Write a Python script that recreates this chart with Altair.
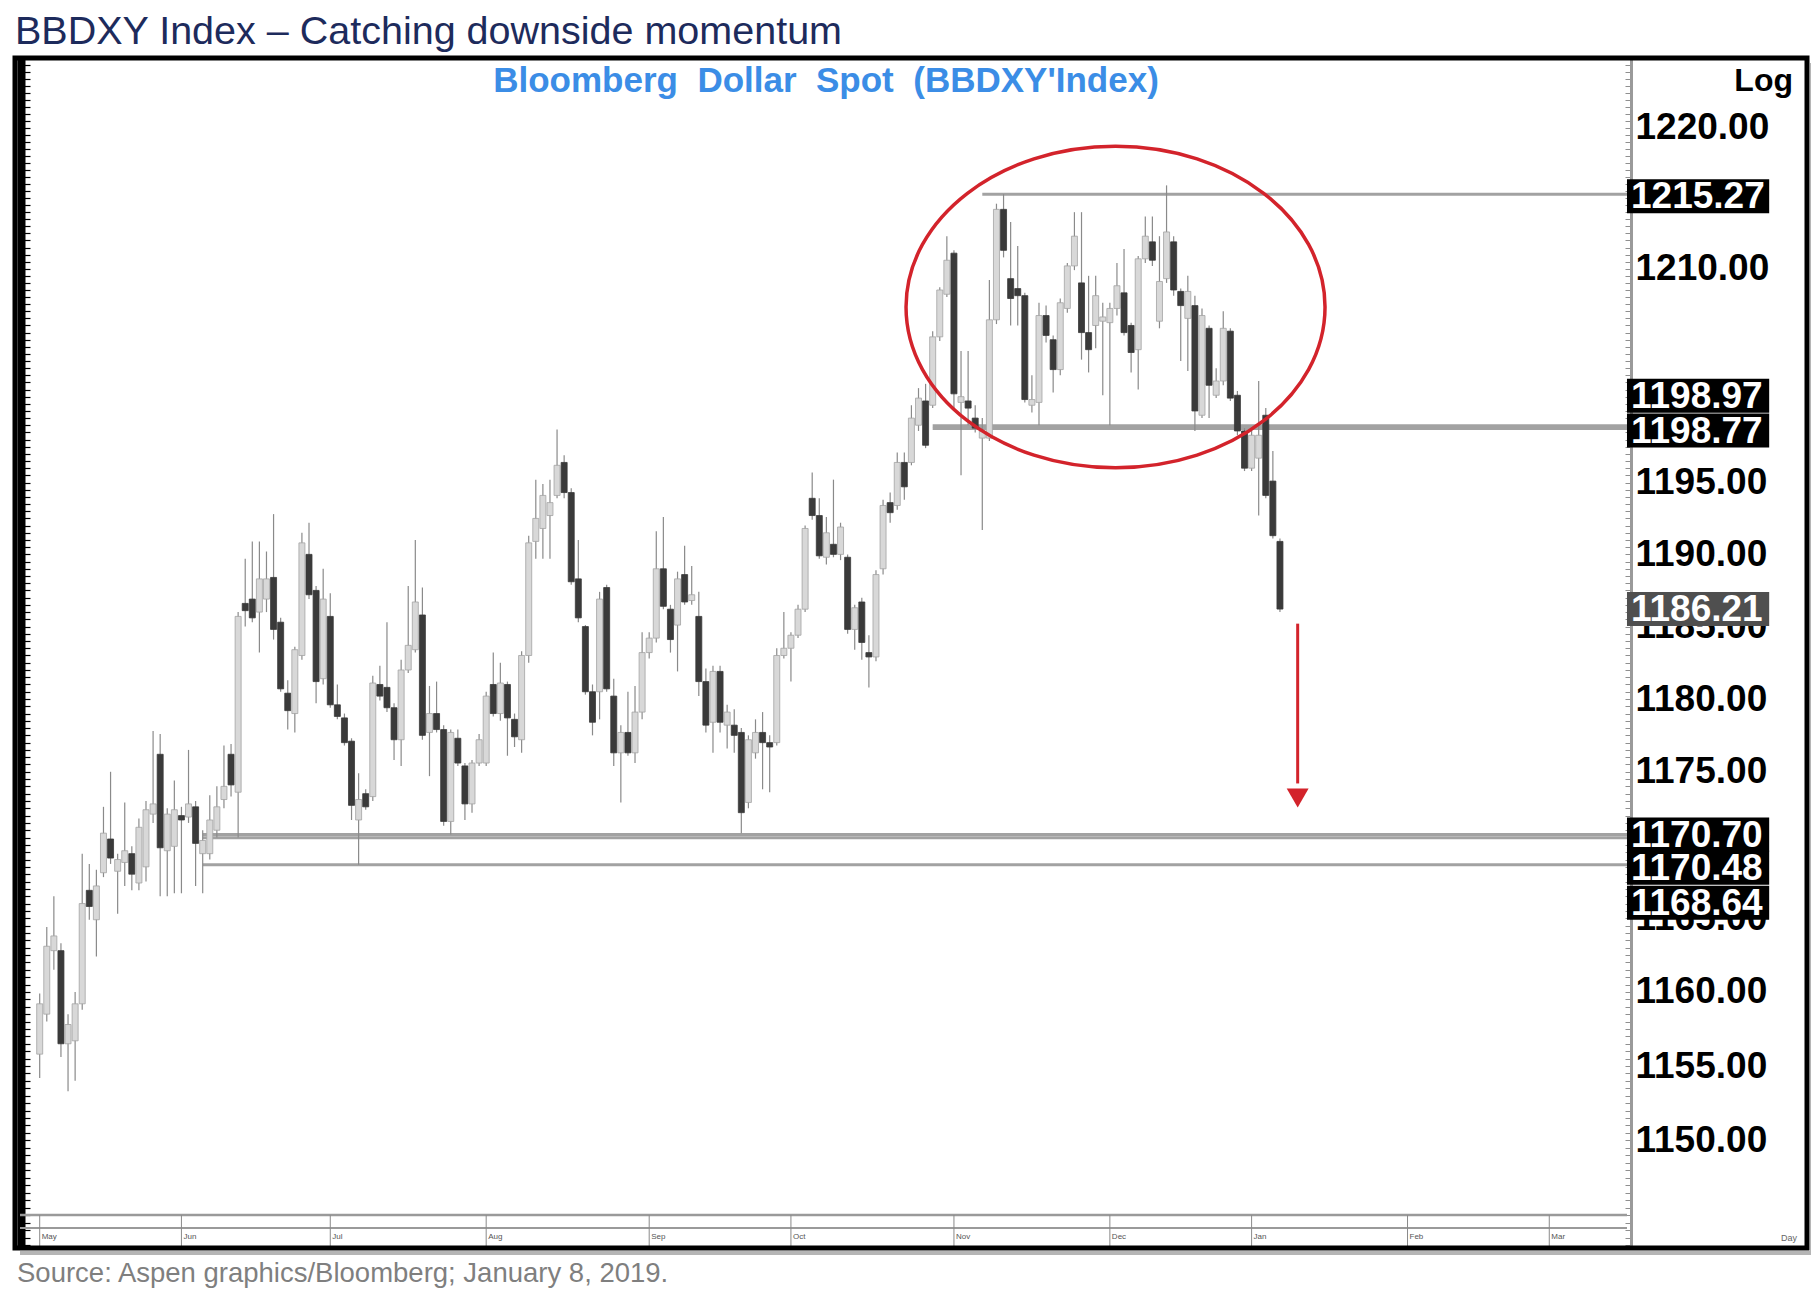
import altair as alt
import numpy as np
import pandas as pd

# ---------------- text ----------------
TITLE = "BBDXY Index – Catching downside momentum"
SUBTITLE = "Bloomberg  Dollar  Spot  (BBDXY'Index)"
SOURCE = "Source: Aspen graphics/Bloomberg; January 8, 2019."

# ---------------- daily candles ----------------
OPEN = [1155.8, 1158.5, 1162.8, 1162.8, 1156.5, 1156.7, 1159.2, 1166.9, 1164.9, 1168.1,
        1170.4, 1168.2, 1168.8, 1169.4, 1167.4, 1168.5, 1172.1, 1176.2, 1169.6, 1169.9,
        1172.0, 1171.9, 1172.6, 1169.4, 1169.4, 1171.0, 1173.1, 1176.2, 1173.6, 1186.6,
        1186.9, 1186.0, 1186.9, 1188.4, 1185.3, 1180.4, 1179.0, 1183.0, 1190.0, 1187.5,
        1181.4, 1185.7, 1179.6, 1178.7, 1177.1, 1171.7, 1173.5, 1173.3, 1181.0, 1180.8,
        1179.4, 1177.2, 1182.0, 1183.4, 1185.8, 1177.7, 1179.0, 1177.9, 1171.6, 1177.3,
        1175.4, 1172.8, 1175.6, 1175.6, 1181.0, 1179.0, 1181.0, 1178.6, 1177.2, 1183.0,
        1190.9, 1191.8, 1192.7, 1194.1, 1196.4, 1194.3, 1188.3, 1185.0, 1180.5, 1180.5,
        1187.7, 1180.2, 1176.3, 1177.7, 1176.3, 1179.1, 1183.2, 1184.2, 1189.0, 1186.2,
        1185.1, 1188.6, 1186.8, 1185.7, 1181.2, 1178.4, 1181.9, 1178.2, 1178.2, 1177.7,
        1172.9, 1176.3, 1177.7, 1177.0, 1177.0, 1183.0, 1183.5, 1184.4, 1186.2, 1193.9,
        1192.7, 1189.8, 1190.7, 1190.0, 1189.8, 1184.8, 1186.7, 1183.2, 1182.9, 1189.0,
        1193.6, 1193.4, 1196.4, 1196.4, 1199.0, 1200.7, 1200.4, 1205.2, 1208.2, 1211.1,
        1200.6, 1200.7, 1199.5, 1198.1, 1198.1, 1206.4, 1214.2, 1209.3, 1208.6, 1208.1,
        1200.4, 1200.6, 1206.7, 1205.0, 1202.9, 1207.2, 1210.2, 1209.0, 1205.5, 1206.0,
        1206.3, 1206.2, 1207.2, 1208.3, 1206.0, 1204.3, 1210.7, 1211.9, 1206.3, 1209.3,
        1211.9, 1208.4, 1206.5, 1207.4, 1199.7, 1205.8, 1201.1, 1202.1, 1205.6, 1201.1,
        1198.6, 1196.0, 1196.7, 1199.7, 1195.1, 1190.9]
HIGH = [1159.9, 1164.4, 1166.5, 1163.3, 1158.5, 1160.0, 1169.4, 1168.7, 1168.3, 1172.6,
        1175.0, 1169.4, 1172.9, 1169.9, 1171.8, 1173.0, 1177.8, 1177.6, 1172.5, 1174.4,
        1172.6, 1176.5, 1173.0, 1171.0, 1173.4, 1174.0, 1176.8, 1176.9, 1186.0, 1189.7,
        1190.9, 1190.9, 1190.2, 1192.8, 1185.6, 1181.3, 1183.6, 1191.5, 1192.2, 1187.8,
        1189.0, 1187.3, 1181.0, 1179.0, 1177.3, 1174.9, 1173.8, 1181.6, 1182.3, 1185.3,
        1179.7, 1182.7, 1187.8, 1191.0, 1187.7, 1180.9, 1181.2, 1178.2, 1177.9, 1177.9,
        1175.6, 1175.8, 1177.6, 1180.5, 1183.2, 1182.5, 1181.2, 1179.0, 1183.3, 1191.3,
        1195.2, 1194.9, 1195.2, 1198.7, 1196.9, 1194.6, 1191.0, 1185.1, 1181.0, 1187.4,
        1187.9, 1181.4, 1178.2, 1180.5, 1180.9, 1184.6, 1184.6, 1191.6, 1192.6, 1186.5,
        1188.8, 1190.6, 1189.2, 1187.4, 1182.1, 1182.3, 1182.3, 1179.6, 1179.3, 1178.0,
        1177.5, 1178.6, 1179.1, 1177.5, 1183.5, 1186.0, 1184.6, 1186.5, 1192.0, 1195.7,
        1193.9, 1192.6, 1195.2, 1192.2, 1190.0, 1186.5, 1187.0, 1184.4, 1188.9, 1193.8,
        1194.3, 1197.1, 1197.1, 1200.4, 1201.6, 1201.9, 1205.6, 1208.7, 1212.3, 1211.3,
        1204.2, 1204.2, 1200.4, 1199.5, 1209.2, 1214.6, 1215.27, 1213.3, 1211.6, 1208.3,
        1202.5, 1207.6, 1207.4, 1205.3, 1207.9, 1210.4, 1214.0, 1214.0, 1209.5, 1209.5,
        1207.6, 1207.6, 1210.4, 1211.4, 1206.2, 1210.9, 1213.7, 1213.7, 1212.3, 1215.9,
        1212.3, 1208.6, 1209.5, 1208.1, 1207.2, 1206.0, 1203.0, 1207.0, 1205.8, 1201.4,
        1198.8, 1198.8, 1202.1, 1200.2, 1197.2, 1191.1]
LOW = [1154.2, 1158.0, 1161.5, 1155.6, 1153.3, 1154.0, 1158.8, 1164.9, 1162.4, 1167.8,
       1168.7, 1165.3, 1167.2, 1166.9, 1166.9, 1167.5, 1171.5, 1166.5, 1166.5, 1166.7,
       1166.7, 1171.5, 1167.2, 1166.7, 1169.0, 1170.5, 1172.5, 1173.3, 1170.5, 1185.0,
       1185.3, 1183.2, 1186.0, 1184.1, 1180.5, 1177.9, 1177.7, 1182.7, 1186.9, 1179.7,
       1181.0, 1179.4, 1178.6, 1176.8, 1171.7, 1168.64, 1172.4, 1173.0, 1179.9, 1179.1,
       1175.8, 1175.4, 1181.8, 1183.2, 1177.2, 1174.7, 1177.7, 1171.3, 1170.7, 1175.4,
       1171.7, 1172.2, 1175.4, 1175.4, 1178.8, 1178.5, 1176.1, 1176.7, 1176.3, 1182.5,
       1189.7, 1189.7, 1189.7, 1193.9, 1193.9, 1187.9, 1185.3, 1180.3, 1177.5, 1178.6,
       1180.5, 1175.4, 1172.9, 1176.1, 1175.6, 1178.6, 1182.8, 1183.9, 1186.2, 1183.2,
       1181.9, 1186.5, 1186.5, 1180.2, 1177.7, 1176.3, 1177.7, 1176.6, 1176.3, 1170.8,
       1172.5, 1175.9, 1173.8, 1173.6, 1176.8, 1182.8, 1181.2, 1184.2, 1186.0, 1192.4,
       1189.7, 1189.3, 1189.8, 1189.6, 1184.5, 1183.4, 1182.7, 1180.8, 1182.6, 1188.6,
       1192.2, 1193.1, 1193.8, 1196.2, 1198.6, 1197.4, 1200.2, 1204.9, 1208.0, 1200.0,
       1195.5, 1199.0, 1198.5, 1191.7, 1197.9, 1206.1, 1210.8, 1206.0, 1206.0, 1200.6,
       1199.9, 1199.0, 1204.8, 1201.3, 1202.5, 1206.9, 1209.9, 1203.6, 1202.7, 1204.4,
       1201.1, 1199.0, 1206.7, 1205.3, 1202.7, 1201.5, 1210.4, 1210.2, 1205.8, 1209.0,
       1208.1, 1203.5, 1202.8, 1198.6, 1199.5, 1199.5, 1200.9, 1201.8, 1200.7, 1198.3,
       1195.8, 1195.8, 1192.7, 1193.9, 1191.1, 1186.0]
CLOSE = [1159.2, 1163.1, 1163.8, 1156.5, 1157.8, 1159.2, 1166.0, 1165.8, 1167.2, 1170.8,
         1169.1, 1169.0, 1169.6, 1168.0, 1171.2, 1172.4, 1172.8, 1169.8, 1172.1, 1172.4,
         1171.7, 1172.8, 1170.1, 1170.3, 1171.7, 1172.6, 1174.0, 1174.1, 1185.7, 1186.1,
         1185.6, 1188.3, 1188.3, 1184.8, 1180.7, 1179.2, 1183.4, 1190.8, 1187.2, 1181.2,
         1186.9, 1179.6, 1178.8, 1177.0, 1172.7, 1173.1, 1172.6, 1181.1, 1180.2, 1179.4,
         1177.2, 1182.0, 1183.7, 1186.7, 1177.5, 1179.0, 1177.9, 1171.6, 1177.7, 1175.6,
         1172.8, 1175.6, 1177.2, 1180.2, 1179.0, 1181.1, 1178.7, 1177.4, 1183.0, 1190.8,
         1192.5, 1194.1, 1193.6, 1196.2, 1194.3, 1188.1, 1185.6, 1180.5, 1178.4, 1186.9,
         1180.7, 1176.3, 1177.7, 1176.3, 1179.1, 1183.2, 1184.2, 1189.0, 1186.4, 1184.1,
         1188.3, 1186.7, 1187.2, 1181.2, 1178.2, 1181.9, 1178.4, 1179.1, 1177.5, 1172.2,
         1177.2, 1177.7, 1177.0, 1176.7, 1183.0, 1183.5, 1184.4, 1186.2, 1191.8, 1192.7,
         1189.9, 1191.5, 1190.0, 1191.9, 1184.8, 1186.3, 1183.9, 1182.9, 1188.6, 1193.4,
         1192.9, 1196.4, 1194.7, 1199.5, 1200.9, 1197.6, 1205.2, 1208.5, 1210.6, 1201.2,
         1201.0, 1200.2, 1198.8, 1198.6, 1206.4, 1214.2, 1211.3, 1207.9, 1208.1, 1200.8,
         1200.8, 1206.7, 1205.3, 1202.9, 1207.6, 1210.2, 1212.3, 1205.5, 1204.3, 1208.1,
         1206.6, 1207.2, 1208.8, 1205.5, 1204.1, 1210.7, 1212.3, 1210.6, 1209.1, 1212.6,
         1208.5, 1207.4, 1208.4, 1200.0, 1206.7, 1201.8, 1202.1, 1205.8, 1200.9, 1198.6,
         1196.0, 1198.3, 1198.3, 1194.1, 1191.3, 1186.21]

# horizontal support / resistance levels and candle index where each starts
LEVELS = [1215.27, 1198.97, 1198.77, 1170.70, 1170.48, 1168.64]
LEVEL_FROM = [133, 126, 126, 23, 23, 23]
LAST_CLOSE = 1186.21
Y_TICKS = [1150, 1155, 1160, 1165, 1175, 1180, 1185, 1190, 1195, 1210, 1220]

# trading calendar of the date strip
FIRST_DAY = "2018-05-04"
LAST_AXIS_DAY = "2019-03-29"
NO_TRADING = ["2018-12-25", "2019-01-01"]

# annotation anchors in data coordinates
RING_CENTER = (151.8, 1207.3)
ARROW_X = 177.5
ARROW_FROM, ARROW_TO = 1185.2, 1173.2

# ---------------- layout (pixels) ----------------
W, H = 1792, 1190
BAR_PX, FIRST_PX = 7.127, 19.8
AXIS_PX = 1616
X_DOM = [-FIRST_PX / BAR_PX, (W - FIRST_PX) / BAR_PX]
AXIS_IDX = (AXIS_PX - FIRST_PX) / BAR_PX
BOX_END_IDX = (1759 - FIRST_PX) / BAR_PX
Y_DOM = [1142.8, 1224.97]
RING_RX, RING_RATIO = 209.5, 0.7675
STRIP_TOP, STRIP_MID, STRIP_BOT = 1157, 1170, 1188
FONT = "Liberation Sans"
RED = "#d3232b"
NBSP = "\u00a0"

xs = alt.Scale(domain=X_DOM, nice=False, zero=False)
ys = alt.Scale(type="log", domain=Y_DOM, nice=False)

assert len(OPEN) == len(HIGH) == len(LOW) == len(CLOSE)
df = pd.DataFrame({"i": range(len(OPEN)), "open": OPEN, "high": HIGH,
                   "low": LOW, "close": CLOSE})

# calendar -> weekly and monthly ticks
cal = pd.bdate_range(FIRST_DAY, LAST_AXIS_DAY)
cal = cal[~cal.isin(pd.to_datetime(NO_TRADING))]
week_idx, week_lbl, month_idx, month_lbl = [], [], [], []
for k, d in enumerate(cal):
    if k > AXIS_IDX - 1:
        break
    if k == 0 or d.month != cal[k - 1].month:
        month_idx.append(k)
        month_lbl.append(d.strftime("%b"))
    if k == 0 or d.weekday() < cal[k - 1].weekday():
        week_idx.append(k)
        week_lbl.append(str(d.day))
week_expr = "[" + ",".join(f"'{s}'" for s in week_lbl) + "][indexof([" + \
    ",".join(str(v) for v in week_idx) + "], datum.value)]"

up = "datum.close >= datum.open"

wicks = alt.Chart(df).mark_rule(color="#8a8a8a", strokeWidth=1.2).encode(
    x=alt.X("i:Q", scale=xs, axis=alt.Axis(
        orient="bottom", offset=-(H - STRIP_TOP), values=week_idx, labelExpr=week_expr,
        labelFont=FONT, labelFontSize=8, labelColor="#666666", labelAlign="left",
        labelBaseline="middle", labelPadding=-6, labelOffset=2, tickSize=13,
        tickColor="#9a9a9a", domain=False, grid=False, title=None,
        labelOverlap=False, labelFlush=False)),
    y=alt.Y("low:Q", scale=ys, axis=None),
    y2="high:Q",
)

bodies = alt.Chart(df).mark_bar(size=6, strokeWidth=0.8).encode(
    x=alt.X("i:Q", scale=xs, axis=None),
    y=alt.Y("open:Q", scale=ys, axis=None),
    y2="close:Q",
    color=alt.condition(up, alt.value("#d8d8d8"), alt.value("#3a3a3a")),
    stroke=alt.condition(up, alt.value("#a3a3a3"), alt.value("#3a3a3a")),
)

lv = pd.DataFrame({"v": LEVELS, "x0": LEVEL_FROM, "x1": [AXIS_IDX] * len(LEVELS)})
level_lines = alt.Chart(lv).mark_rule(color="#a2a2a2", strokeWidth=3).encode(
    x=alt.X("x0:Q", scale=xs, axis=None), x2="x1:Q",
    y=alt.Y("v:Q", scale=ys, axis=None),
)

# price axis (labels on the right of the axis line)
yaxis_df = pd.DataFrame({"v": Y_DOM})
price_axis = alt.Chart(yaxis_df).mark_point(opacity=0).encode(
    y=alt.Y("v:Q", scale=ys, axis=alt.Axis(
        orient="right", offset=-(W - AXIS_PX), values=Y_TICKS, format=".2f",
        labelFont=FONT, labelFontSize=37, labelFontWeight="bold", labelColor="black",
        labelPadding=4, labelAlign="left", ticks=False, domain=True,
        domainColor="#9a9a9a", domainWidth=3, grid=False, title=None,
        labelOverlap=False, labelFlush=False, labelBound=False)),
)
MINOR = [float(v) for v in np.arange(1143.0, 1225.0, 0.5)]
minor_axis = alt.Chart(yaxis_df).mark_point(opacity=0).encode(
    y=alt.Y("v:Q", scale=ys, axis=alt.Axis(
        orient="left", offset=-AXIS_PX, values=MINOR, labels=False, domain=False,
        tickSize=6, tickColor="#8f8f8f", tickWidth=1, grid=False, title=None)),
)
frame_axis = alt.Chart(yaxis_df).mark_point(opacity=0).encode(
    y=alt.Y("v:Q", scale=ys, axis=alt.Axis(
        orient="right", offset=-(W - 6), values=MINOR, labels=False, domain=True,
        domainColor="black", domainWidth=8, tickSize=9, tickColor="black",
        tickWidth=1.2, grid=False, title=None)),
)

# outer frame with a soft shadow
one = pd.DataFrame({"a": [0]})
shadow_r = alt.Chart(one).mark_rule(color="#b5b5b5", strokeWidth=4).encode(
    x=alt.value(W + 5), y=alt.value(5), y2=alt.value(H + 5))
shadow_b = alt.Chart(one).mark_rule(color="#b5b5b5", strokeWidth=4).encode(
    x=alt.value(5), x2=alt.value(W + 5), y=alt.value(H + 5))
frame = alt.Chart(one).mark_rect(fillOpacity=0, stroke="black", strokeWidth=5).encode(
    x=alt.value(0), x2=alt.value(W), y=alt.value(0), y2=alt.value(H))

# date strip
strip_lines = alt.Chart(pd.DataFrame({"a": [X_DOM[0]], "b": [AXIS_IDX]}))
strip_top = strip_lines.mark_rule(color="#9a9a9a", strokeWidth=2.5).encode(
    x=alt.X("a:Q", scale=xs, axis=None), x2="b:Q", y=alt.value(STRIP_TOP))
strip_mid = strip_lines.mark_rule(color="#9a9a9a", strokeWidth=2).encode(
    x=alt.X("a:Q", scale=xs, axis=None), x2="b:Q", y=alt.value(STRIP_MID))
mdf = pd.DataFrame({"i": month_idx, "m": month_lbl})
month_ticks = alt.Chart(mdf).mark_rule(color="#8a8a8a", strokeWidth=1).encode(
    x=alt.X("i:Q", scale=xs, axis=None), y=alt.value(STRIP_TOP), y2=alt.value(STRIP_BOT))
month_text = alt.Chart(mdf).mark_text(align="left", baseline="middle", dx=2, font=FONT,
                                      fontSize=8, color="#555555").encode(
    x=alt.X("i:Q", scale=xs, axis=None), y=alt.value((STRIP_MID + STRIP_BOT) / 2),
    text="m:N")

# price boxes on the axis
LABEL_SHIFT = {"1215.27": 2, "1198.97": -30, "1198.77": 2, "1186.21": 0,
               "1170.70": 0, "1170.48": 30, "1168.64": 38}
BOX_COLOR = {"1186.21": "#4f4f4f"}
box_values = LEVELS + [LAST_CLOSE]
box_layers = []
for v in box_values:
    key = f"{v:.2f}"
    dy = LABEL_SHIFT[key]
    d = pd.DataFrame({"v": [v], "v2": [v], "x0": [AXIS_IDX], "x1": [BOX_END_IDX], "t": [key]})
    box_layers.append(alt.Chart(d).mark_rect(
        color=BOX_COLOR.get(key, "black"), yOffset=dy - 17, y2Offset=dy + 17).encode(
        x=alt.X("x0:Q", scale=xs, axis=None), x2="x1:Q",
        y=alt.Y("v:Q", scale=ys, axis=None), y2="v2:Q"))
    box_layers.append(alt.Chart(d).mark_text(
        align="left", baseline="middle", dx=4, dy=dy + 1, font=FONT, fontSize=37,
        fontWeight="bold", color="white").encode(
        x=alt.X("x0:Q", scale=xs, axis=None), y=alt.Y("v:Q", scale=ys, axis=None),
        text="t:N"))

# red ring and arrow
ring_path = (f"M-1,0A1,{RING_RATIO},0,1,1,1,0A1,{RING_RATIO},0,1,1,-1,0Z")
ring = alt.Chart(pd.DataFrame({"x": [RING_CENTER[0]], "y": [RING_CENTER[1]]})).mark_point(
    shape=ring_path, size=(2 * RING_RX) ** 2, filled=False, color=RED, strokeWidth=3.5,
    opacity=1).encode(
    x=alt.X("x:Q", scale=xs, axis=None), y=alt.Y("y:Q", scale=ys, axis=None))
arr = pd.DataFrame({"x": [ARROW_X], "y0": [ARROW_FROM], "y1": [ARROW_TO + 1.0], "yt": [ARROW_TO]})
arrow_line = alt.Chart(arr).mark_rule(color=RED, strokeWidth=3).encode(
    x=alt.X("x:Q", scale=xs, axis=None), y=alt.Y("y0:Q", scale=ys, axis=None), y2="y1:Q")
arrow_head = alt.Chart(arr).mark_point(shape="triangle-down", size=480, filled=True,
                                       color=RED, opacity=1).encode(
    x=alt.X("x:Q", scale=xs, axis=None), y=alt.Y("yt:Q", scale=ys, axis=None))

# texts
def note(txt, x, y, **kw):
    return alt.Chart(pd.DataFrame({"t": [txt]})).mark_text(font=FONT, **kw).encode(
        text="t:N", x=alt.value(x), y=alt.value(y))

title = note(TITLE, 0, -14, align="left", baseline="alphabetic", fontSize=39.5,
             color="#1d2b5c")
subtitle = note(SUBTITLE.replace(" ", NBSP), 811, 23, align="center", baseline="middle",
                fontSize=35, fontWeight="bold", color="#3b8de6")
log_txt = note("Log", 1778, 23, align="right", baseline="middle", fontSize=32,
               fontWeight="bold", color="black")
day_txt = note("Day", 1782, 1180, align="right", baseline="middle", fontSize=9,
               color="#666666")
source = note(SOURCE, 2, 1216, align="left", baseline="middle", fontSize=27.5,
              color="#7f7f7f")

chart = alt.layer(
    shadow_r, shadow_b,
    frame_axis, minor_axis, price_axis,
    strip_top, strip_mid, month_ticks, month_text,
    level_lines, wicks, bodies,
    *box_layers, ring, arrow_line, arrow_head,
    frame, title, subtitle, log_txt, day_txt, source,
).resolve_axis(y="independent").properties(
    width=W, height=H,
    autosize=alt.AutoSizeParams(type="none"),
    padding={"left": 7, "top": 50, "right": 4, "bottom": 40},
).configure_view(strokeWidth=0).configure(background="white")

chart.save("out.html", embed_options={"renderer": "svg", "actions": False})
